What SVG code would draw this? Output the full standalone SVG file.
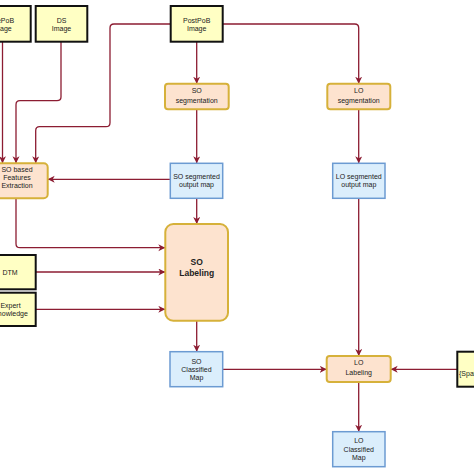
<svg xmlns="http://www.w3.org/2000/svg" width="474" height="474" viewBox="0 0 474 474">
<defs>
<style>
.in{fill:#ffffc4;stroke:#111;stroke-width:2}
.pr{fill:#fde3cf;stroke:#d6b13a;stroke-width:2}
.out{fill:#dbeefc;stroke:#6c9bd2;stroke-width:1.5}
text{font-family:"Liberation Sans",Arial,sans-serif;font-size:7px;fill:#222;text-anchor:middle}
.b{font-weight:bold;font-size:8.5px}
.c{fill:none;stroke:#8c1c32;stroke-width:1.3;marker-end:url(#ah)}
</style>
<marker id="ah" markerUnits="userSpaceOnUse" markerWidth="8" markerHeight="8" refX="7" refY="3.5" orient="auto">
<path d="M0,0 L7,3.5 L0,7 L2,3.5 z" fill="#8c1c32"/>
</marker>
</defs>
<rect width="474" height="474" fill="#fff"/>
<g id="connectors">
<path class="c" d="M2.5,41.7 V163.3"/>
<path class="c" d="M61,41.7 V97 Q61,100.7 57,100.7 H20 Q16,100.7 16,104.7 V163.3"/>
<path class="c" d="M170.7,24 H114 Q110,24 110,28 V122.7 Q110,126.7 106,126.7 H39.7 Q35.7,126.7 35.7,130.7 V163.3"/>
<path class="c" d="M222.7,24 H354.7 Q358.7,24 358.7,28 V83.7"/>
<path class="c" d="M196.7,41.7 V83.7"/>
<path class="c" d="M196.7,109.3 V163.3"/>
<path class="c" d="M358.7,109.3 V163.3"/>
<path class="c" d="M170.3,179.3 H47.7"/>
<path class="c" d="M16,198.3 V243.7 Q16,247.7 20,247.7 H165.3"/>
<path class="c" d="M35.7,272 H165.3"/>
<path class="c" d="M35.7,309.3 H165.3"/>
<path class="c" d="M196.7,198.3 V224"/>
<path class="c" d="M196.7,320.7 V351.7"/>
<path class="c" d="M358.7,198.3 V356"/>
<path class="c" d="M222.7,369.3 H326.7"/>
<path class="c" d="M457.3,369.3 H390.7"/>
<path class="c" d="M358.7,382 V431.7"/>
</g>
<g id="prepob">
<rect class="in" x="-24" y="6" width="54.7" height="35.7"/>
<text x="2" y="22.5">PrePoB</text>
<text x="2" y="30.8">Image</text>
</g>
<g id="ds">
<rect class="in" x="35.7" y="6" width="51.6" height="35.7"/>
<text x="61.5" y="22.5">DS</text>
<text x="61.5" y="30.8">Image</text>
</g>
<g id="postpob">
<rect class="in" x="170.7" y="6" width="52" height="35.7"/>
<text x="196.7" y="22.5">PostPoB</text>
<text x="196.7" y="30.8">Image</text>
</g>
<g id="so-seg">
<rect class="pr" x="165" y="83.7" width="63.7" height="25.6" rx="3"/>
<text x="196.7" y="92.5">SO</text>
<text x="196.7" y="102.5">segmentation</text>
</g>
<g id="lo-seg">
<rect class="pr" x="327.3" y="83.7" width="63" height="25.6" rx="3"/>
<text x="358.7" y="92.5">LO</text>
<text x="358.7" y="102.5">segmentation</text>
</g>
<g id="so-features">
<rect class="pr" x="-14" y="163.3" width="61.7" height="35" rx="4"/>
<text x="17" y="171.8">SO based</text>
<text x="17" y="180">Features</text>
<text x="17" y="188">Extraction</text>
</g>
<g id="so-seg-out">
<rect class="out" x="170.3" y="163.3" width="52.4" height="35"/>
<text x="196.5" y="179.2">SO segmented</text>
<text x="196.5" y="187.2">output map</text>
</g>
<g id="lo-seg-out">
<rect class="out" x="332.7" y="163.3" width="52.3" height="35"/>
<text x="358.8" y="179.2">LO segmented</text>
<text x="358.8" y="187.2">output map</text>
</g>
<g id="so-labeling">
<rect class="pr" x="165.3" y="224" width="62.7" height="96.7" rx="8"/>
<text class="b" x="196.7" y="264.7">SO</text>
<text class="b" x="196.7" y="275.7">Labeling</text>
</g>
<g id="dtm">
<rect class="in" x="-16" y="255" width="51.7" height="34.3"/>
<text x="10" y="274.5">DTM</text>
</g>
<g id="expert">
<rect class="in" x="-16" y="292.7" width="51.7" height="33.3"/>
<text x="10.5" y="307.8">Expert</text>
<text x="10.5" y="315.8">Knowledge</text>
</g>
<g id="so-classified">
<rect class="out" x="170" y="351.7" width="52.7" height="35"/>
<text x="196.5" y="364.2">SO</text>
<text x="196.5" y="372.2">Classified</text>
<text x="196.5" y="379.5">Map</text>
</g>
<g id="lo-labeling">
<rect class="pr" x="326.7" y="356" width="64" height="26" rx="3"/>
<text x="358.7" y="365.2">LO</text>
<text x="358.7" y="375.2">Labeling</text>
</g>
<g id="spatial">
<rect class="in" x="457.3" y="351.7" width="40" height="35"/>
<text x="459" y="375.5" style="text-anchor:start">{Spatial</text>
</g>
<g id="lo-classified">
<rect class="out" x="332.7" y="431.7" width="52.3" height="35"/>
<text x="358.8" y="443.2">LO</text>
<text x="358.8" y="451.5">Classified</text>
<text x="358.8" y="459.5">Map</text>
</g>
</svg>
